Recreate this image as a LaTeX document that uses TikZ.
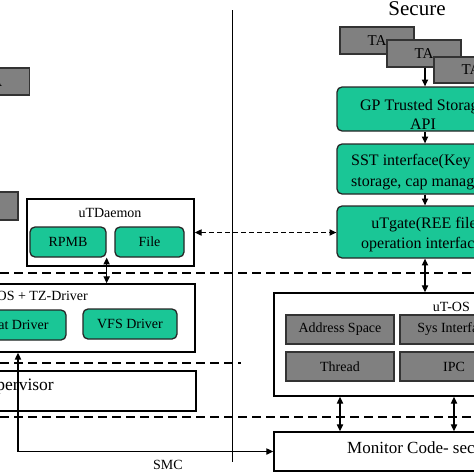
\documentclass[tikz,border=0pt]{standalone}
\usepackage{fontspec}
\setmainfont{Liberation Serif}
\usetikzlibrary{calc,shapes,positioning}
\usetikzlibrary{arrows.meta}
\tikzset{>={Triangle[width=2.2mm,length=2.4mm]}}
\definecolor{tzgreen}{RGB}{26,198,150}
\definecolor{tzgray}{RGB}{128,128,128}

\begin{document}
\begin{tikzpicture}[x=1pt,y=-1pt]
      \tikzstyle{gbox} = [draw=black!85, line width=1.3pt, fill=tzgreen, rounded corners=5pt, inner sep=0pt, align=center, font=\fontsize{14}{16}\selectfont]
      \tikzstyle{ybox} = [draw=black!80, line width=1.3pt, fill=tzgray, inner sep=0pt, align=center, font=\fontsize{14}{16}\selectfont]
      \tikzstyle{wbox} = [draw=black, line width=1.6pt, fill=white, inner sep=0pt]
      \tikzstyle{lbl} = [inner sep=0pt, font=\fontsize{14}{16}\selectfont]
      \tikzstyle{glbl} = [inner sep=0pt, align=center, font=\fontsize{16}{20}\selectfont]
      \tikzstyle{sep} = [line width=1.6pt, dash pattern=on 9pt off 5pt]
      \tikzstyle{link} = [line width=1.2pt]
      \useasboundingbox (0,0) rectangle (474,474);
      \clip (0,0) rectangle (474,474);

      % separators
      \draw[line width=0.9pt] (232,10) -- (232,462);
      \draw[sep] (0,273) -- (474,273);
      \draw[sep] (0,363) -- (241,363);
      \draw[sep] (0,417) -- (474,417);

      % normal world
      \node[ybox, minimum width=74pt, minimum height=27pt] (ca) at (-7.5,81.5) {CA};
      \node[ybox, minimum width=74pt, minimum height=28pt] (cb) at (-19,206) {};
      \node[wbox, minimum width=167pt, minimum height=67pt] (utd) at (110.5,232.5) {};
      \node[lbl] (utdl) at (110,213) {uTDaemon};
      \node[gbox, minimum width=76pt, minimum height=30pt] (rpmb) at (68,242) {RPMB};
      \node[gbox, minimum width=69pt, minimum height=30pt] (file) at (149.5,242) {File};
      \node[wbox, minimum width=255pt, minimum height=68pt] (drv) at (67.5,318) {};
      \node[lbl, anchor=east] (drvl) at (88,296) {REE OS + TZ-Driver};
      \node[gbox, minimum width=93pt, minimum height=30pt] (fat) at (19.5,325) {Fat Driver};
      \node[gbox, minimum width=94pt, minimum height=30pt] (vfs) at (130,324) {VFS Driver};
      \node[wbox, minimum width=296pt, minimum height=40pt] (hyp) at (48,391) {};
      \node[lbl, anchor=east, font=\fontsize{17.5}{20}\selectfont] (hypl) at (54,387) {Hypervisor};

      % secure world
      \node[lbl, font=\fontsize{21}{24}\selectfont] (sec) at (417,9) {Secure};
      \node[ybox, minimum width=74pt, minimum height=27pt, font=\fontsize{15}{17}\selectfont] (ta1) at (377,40.5) {TA};
      \node[ybox, minimum width=74pt, minimum height=27pt, font=\fontsize{15}{17}\selectfont] (ta2) at (424,53.5) {TA};
      \node[ybox, minimum width=74pt, minimum height=26pt, font=\fontsize{15}{17}\selectfont] (ta3) at (471,70) {TA};
      \node[gbox, minimum width=176pt, minimum height=44pt] (gp) at (425,109) {};
      \node[glbl, font=\fontsize{16}{19}\selectfont] (gpl) at (423,114) {GP Trusted Storage\\API};
      \node[gbox, minimum width=176pt, minimum height=50pt] (sst) at (425,169) {};
      \node[glbl, anchor=west, align=left, font=\fontsize{16}{21}\selectfont] (sstl) at (351,172.5) {SST interface(Key\\storage, cap management)};
      \node[gbox, minimum width=176pt, minimum height=52pt] (ugate) at (425,232) {};
      \node[glbl] (ugatel) at (424,235) {uTgate(REE file\\operation interface)};
      \node[wbox, minimum width=266pt, minimum height=103pt] (utos) at (407,344.5) {};
      \node[lbl, anchor=east] (utosl) at (470,307) {uT-OS};
      \node[ybox, minimum width=108pt, minimum height=29pt] (addr) at (340,329.5) {Address Space};
      \node[ybox, minimum width=108pt, minimum height=29pt] (sysif) at (454,329.5) {Sys Interface};
      \node[ybox, minimum width=108pt, minimum height=29pt] (thr) at (340,366.5) {Thread};
      \node[ybox, minimum width=108pt, minimum height=29pt] (ipc) at (454,366.5) {IPC};
      \node[wbox, minimum width=266pt, minimum height=39pt] (mon) at (407,451.5) {};
      \node[lbl, anchor=west, font=\fontsize{17}{20}\selectfont] (monl) at (347,448) {Monitor Code- secure world};
      \node[lbl] (smc) at (168,465) {SMC};

      % connectors
      \coordinate (smcturn) at (18,451.5);
      \draw[link, ->] (ta2.south -| gp.north) -- (gp.north);
      \draw[link, ->] (gp) -- (sst);
      \draw[link, ->] (sst) -- (ugate);
      \draw[link, <->] (ugate.south) -- (ugate.south |- utos.north);
      \draw[link, <->] (utos.south -| addr) -- (mon.north -| addr);
      \draw[link, <->] (utos.south -| ipc) -- (mon.north -| ipc);
      \draw[link, <->] (rpmb.south east) -- (rpmb.south east |- drv.north);
      \draw[link, <->, dash pattern=on 5pt off 3pt] (utd.east) -- (utd.east -| ugate.west);
      \draw[link, <->] (smcturn |- drv.south) -- (smcturn) -- (smcturn -| mon.west);

    \end{tikzpicture}
\end{document}
